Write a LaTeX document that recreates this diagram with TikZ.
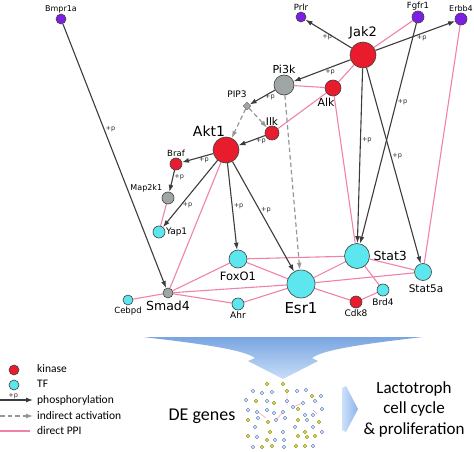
\documentclass[tikz,border=0pt]{standalone}
\usepackage{fontspec}
\setmainfont{DejaVu Sans}
\newfontfamily\carl{Carlito}
\usetikzlibrary{arrows.meta,shapes.geometric}
\pgfdeclarelayer{bg}
\pgfsetlayers{bg,main}
\definecolor{kred}{RGB}{232,28,44}
\definecolor{tfc}{RGB}{92,230,238}
\definecolor{recc}{RGB}{125,30,230}
\definecolor{gnode}{RGB}{160,165,165}
\definecolor{edark}{RGB}{60,60,60}
\definecolor{edash}{RGB}{150,150,150}
\definecolor{ppic}{RGB}{240,130,170}
\definecolor{fun1}{RGB}{122,165,225}
\definecolor{fun2}{RGB}{200,222,248}
\definecolor{ar1}{RGB}{205,225,248}
\definecolor{ar2}{RGB}{140,180,235}
\definecolor{gblue}{RGB}{100,130,195}
\definecolor{gblf}{RGB}{235,242,252}
\definecolor{gyel}{RGB}{225,225,110}
\definecolor{gyeld}{RGB}{150,150,30}
\tikzset{
 nd/.style={circle,draw=black!75,line width=0.6pt,inner sep=0pt,minimum size=#1},
 kin/.style={nd=#1,fill=kred},
 tf/.style={nd=#1,fill=tfc},
 rcp/.style={nd=#1,fill=recc},
 gry/.style={nd=#1,fill=gnode},
 fs/.style={font=\fontsize{#1}{#1}\selectfont},
 lb/.style={inner sep=0.5pt},
 php/.style={draw=edark,line width=1.1pt,-{Latex[length=7pt,width=5pt]}},
 ind/.style={draw=edash,line width=1.2pt,dash pattern=on 4.5pt off 3pt,-{Latex[length=7pt,width=5pt]}},
 ppi/.style={draw=ppic,line width=1.1pt},
 pl/.style={fs=6.5,inner sep=1pt,text=black!85},
 leg/.style={anchor=west,inner sep=1pt,font=\carl\fontsize{11.5}{12}\selectfont},
 gb/.style={circle,draw=gblue,fill=gblf,line width=0.6pt,inner sep=0pt,minimum size=3.6pt},
 gy/.style={circle,draw=gyeld,fill=gyel,line width=0.6pt,inner sep=0pt,minimum size=3.6pt},
}
\begin{document}
\begin{tikzpicture}[x=1pt,y=-1pt]
\useasboundingbox (0,0) rectangle (474,452);
% nodes
\node[rcp=10pt, label={[fs=8,lb]above:Bmpr1a}] (Bmpr1a) at (61,19) {};
\node[rcp=10pt, label={[fs=8.5,lb]above:Prlr}] (Prlr) at (301,17) {};
\node[rcp=12pt, label={[fs=8.5,lb]above:Fgfr1}] (Fgfr1) at (418,17) {};
\node[rcp=12pt, label={[fs=8,lb]above:Erbb4}] (Erbb4) at (461,19) {};
\node[kin=26pt, label={[fs=13,lb,label distance=2pt]above:Jak2}] (Jak2) at (363,55) {};
\node[gry=20pt, label={[fs=11,lb]above:Pi3k}] (Pi3k) at (284,85) {};
\node[kin=16pt, label={[fs=11,lb,xshift=-7pt,label distance=1pt]below:Alk}] (Alk) at (333,88) {};
\node[diamond, fill=gnode, draw=black!60, line width=.4pt, inner sep=0pt, minimum size=8pt, label={[fs=9,lb,xshift=-10pt,label distance=3pt]above:PIP3}] (PIP3) at (247,106) {};
\node[kin=14pt, label={[fs=10.5,lb]above:Ilk}] (Ilk) at (272,133) {};
\node[kin=26pt, label={[fs=14,lb,xshift=-17pt]above:Akt1}] (Akt1) at (226,150) {};
\node[kin=12pt, label={[fs=8.5,lb]above:Braf}] (Braf) at (176,164) {};
\node[gry=12pt, label={[fs=8,lb,label distance=1pt]above left:Map2k1}] (Map2k1) at (168,198) {};
\node[tf=12pt, label={[fs=9,lb]right:Yap1}] (Yap1) at (159,232) {};
\node[tf=18pt, label={[fs=11.5,lb,label distance=3pt]below:FoxO1}] (FoxO1) at (238,259) {};
\node[tf=28pt, label={[fs=15,lb,label distance=4pt]below:Esr1}] (Esr1) at (301,284) {};
\node[tf=25pt, label={[fs=12.5,lb,label distance=3pt]right:Stat3}] (Stat3) at (357,256) {};
\node[tf=17pt, label={[fs=10.5,lb,label distance=3pt,xshift=3pt]below:Stat5a}] (Stat5a) at (423,272) {};
\node[tf=12pt, label={[fs=9,lb,label distance=1.5pt]below:Brd4}] (Brd4) at (383,290) {};
\node[kin=12pt, label={[fs=9,lb,label distance=1pt]below:Cdk8}] (Cdk8) at (356,302) {};
\node[tf=12pt, label={[fs=9,lb,label distance=1pt]below:Ahr}] (Ahr) at (238,304) {};
\node[gry=10pt, label={[fs=12.5,lb,label distance=2pt]below:Smad4}] (Smad4) at (168,293) {};
\node[tf=10pt, label={[fs=8.5,lb,label distance=1pt]below:Cebpd}] (Cebpd) at (128,300) {};
% edges
\begin{pgfonlayer}{bg}
\foreach \a/\b in {Jak2/Fgfr1,Jak2/Alk,Pi3k/Alk,Alk/Ilk,Alk/Stat3,Erbb4/Stat5a,Akt1/Smad4,Map2k1/Yap1,Smad4/Cebpd,Smad4/FoxO1,Smad4/Esr1,Smad4/Ahr,FoxO1/Esr1,FoxO1/Stat3,Ahr/Esr1,Esr1/Stat3,Esr1/Stat5a,Esr1/Cdk8,Cdk8/Brd4,Stat3/Brd4,Stat3/Stat5a}
  \draw[ppi] (\a) -- (\b);
\draw[php] (Bmpr1a) -- node[pl,pos=.4,anchor=west]{+p} (Smad4);
\draw[php] (Jak2) -- node[pl,pos=.53,below]{+p} (Prlr);
\draw[php] (Jak2) -- node[pl,pos=.58,below]{+p} (Erbb4);
\draw[php] (Jak2) -- node[pl,pos=.36,below]{+p} (Pi3k);
\draw[php] (Jak2) -- node[pl,pos=.41,right]{+p} (Stat3);
\draw[php] (Jak2) -- node[pl,pos=.45,right]{+p} (Stat5a);
\draw[php] (Fgfr1) -- node[pl,pos=.36,right]{+p} (Stat3);
\draw[php] (Pi3k) -- node[pl,pos=.2,below]{+p} (PIP3);
\draw[php] (Ilk) -- node[pl,pos=.16,below]{+p} (Akt1);
\draw[php] (Akt1) -- node[pl,pos=.3,below]{+p} (Braf);
\draw[php] (Braf) -- node[pl,pos=.32,right]{+p} (Map2k1);
\draw[php] (Akt1) -- node[pl,pos=.67,right]{+p} (Yap1);
\draw[php] (Akt1) -- node[pl,pos=.5,right]{+p} (FoxO1);
\draw[php] (Akt1) -- node[pl,pos=.44,right]{+p} (Esr1);
\draw[ind] (PIP3) -- (Akt1);
\draw[ind] (PIP3) -- (Ilk);
\draw[ind] (Pi3k) -- (Esr1);
\end{pgfonlayer}
% legend
\node[kin=10pt] (lk) at (14,370) {};
\node[tf=10pt] (lt) at (14,385) {};
\node[leg] (lkt) at (36,369) {kinase};
\node[leg] (ltt) at (36,384) {TF};
\coordinate (pa) at (0,400); \coordinate (pb) at (33,400);
\draw[php] (pa) -- node[pl,pos=.4,above]{+p} (pb);
\node[leg] (lpt) at (36,400) {phosphorylation};
\coordinate (ia) at (0,416); \coordinate (ib) at (33,416);
\draw[ind] (ia) -- (ib);
\node[leg] (lit) at (36,416) {indirect activation};
\coordinate (qa) at (0,431); \coordinate (qb) at (30,431);
\draw[ppi] (qa) -- (qb);
\node[leg] (lqt) at (36,431) {direct PPI};
% funnel arrow
\shade[top color=fun1, bottom color=fun2] (143,337) -- (423,337) .. controls (362,344) and (322,350) .. (312,358) -- (318,361) -- (283,379) -- (248,361) -- (255,358) .. controls (244,350) and (204,344) .. (143,337) -- cycle;
% right arrow
\shade[left color=ar1, right color=ar2] (342,388) -- (346,386) -- (358,409) -- (346,432) -- (342,430) -- cycle;
% gene cloud
\draw[ppic,line width=0.4pt] (287,393) -- (287,405) (293,407) -- (303,403) (313,410) -- (317,414) (258,412) -- (266,418) (276,420) -- (283,412);
\foreach \p in {(253,391),(262,393),(272,392),(297,391),(306,390),(321,396),(246,400),(267,401),(287,401),(293,407),(303,403),(315,401),(248,410),(257,412),(267,410),(274,413),(283,412),(305,415),(313,415),(322,409),(258,418),(276,420),(285,418),(307,420),(255,427),(283,432),(295,427),(313,427),(257,437),(275,440),(284,440),(322,432),(253,447),(284,447),(313,446)}
  \node[gb] at \p {};
\foreach \p in {(267,384),(283,384),(287,391),(312,396),(256,401),(274,403),(298,409),(248,420),(268,422),(298,420),(319,422),(270,432),(305,432),(248,436),(267,440),(298,436),(307,437),(315,436),(262,447),(272,446),(296,446),(305,446)}
  \node[gy] at \p {};
% texts
\node[font=\carl\fontsize{18}{20}\selectfont, inner sep=0pt] (de) at (202,416) {DE genes};
\node[font=\carl\fontsize{17}{20.5}\selectfont, align=center, inner sep=0pt] (lac) at (414,409) {Lactotroph\\cell cycle\\\& proliferation};
\end{tikzpicture}
\end{document}
